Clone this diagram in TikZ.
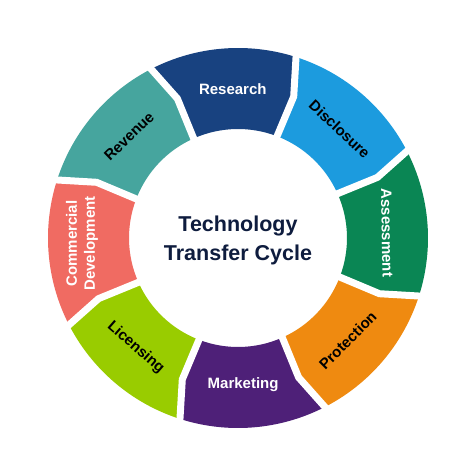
\documentclass[tikz,border=0pt]{standalone}
\usepackage{fontspec}
\setmainfont{Liberation Sans}
\definecolor{cresearch}{RGB}{24,66,128}
\definecolor{cdisclosure}{RGB}{28,155,222}
\definecolor{cassessment}{RGB}{10,134,84}
\definecolor{cprotection}{RGB}{239,138,16}
\definecolor{cmarketing}{RGB}{78,32,120}
\definecolor{clicensing}{RGB}{153,204,0}
\definecolor{ccommdev}{RGB}{240,107,98}
\definecolor{crevenue}{RGB}{70,165,158}
\definecolor{ctitle}{RGB}{14,28,62}
\begin{document}
\begin{tikzpicture}[x=1pt,y=1pt,
  seglabel/.style={font=\fontsize{15}{18}\selectfont\bfseries, align=center, inner sep=0pt},
  gapline/.style={white, line width=7pt, line join=miter},
  titlelabel/.style={font=\fontsize{21.5}{29}\selectfont\bfseries, text=ctitle, align=center, inner sep=0pt}]
\useasboundingbox[fill=white] (-238,-236) rectangle (236,238);
\def\ro{190}
\def\ri{109}
\def\rm{152}
% ring segments
\foreach \i/\c in {0/cresearch,1/cdisclosure,2/cassessment,3/cprotection,4/cmarketing,5/clicensing,6/ccommdev,7/crevenue}{
  \pgfmathsetmacro\a{117-45*\i}
  \pgfmathsetmacro\b{72-45*\i}
  \pgfmathsetmacro\bt{\b-3.5}
  \pgfmathsetmacro\bi{\b-3}
  \pgfmathsetmacro\ai{\a-3}
  \pgfmathsetmacro\at{\a-3.5}
  \fill[\c] (\a:\ro) arc[start angle=\a, end angle=\b, radius=\ro]
     -- (\bt:\rm) -- (\bi:\ri) arc[start angle=\bi, end angle=\ai, radius=\ri]
     -- (\at:\rm) -- cycle;
}
% white gaps
\foreach \k in {0,...,7}{
  \pgfmathsetmacro\a{117-45*\k}
  \pgfmathsetmacro\ae{\a+0.95}
  \pgfmathsetmacro\at{\a-3.5}
  \pgfmathsetmacro\ai{\a-3}
  \draw[gapline] (\ae:200) -- (\at:\rm) -- (\ai:\ri) -- (\ai:98);
}
% labels
\node[seglabel, text=white] (research) at (92:149) {Research};
\node[seglabel, text=black, rotate=-43] (disclosure) at (47:149) {Disclosure};
\node[seglabel, text=white, rotate=-89] (assessment) at (2:149) {Assessment};
\node[seglabel, text=black, rotate=45] (protection) at (-43:150) {Protection};
\node[seglabel, text=white] (marketing) at (-88:147) {Marketing};
\node[seglabel, text=black, rotate=-41] (licensing) at (-133:150) {Licensing};
\node[seglabel, text=white, rotate=90] (commdev) at (182:156) {Commercial\\Development};
\node[seglabel, text=black, rotate=44] (revenue) at (137:149) {Revenue};
% centre
\node[titlelabel] (title) at (0,-2) {Technology\\Transfer Cycle};
\end{tikzpicture}
\end{document}
